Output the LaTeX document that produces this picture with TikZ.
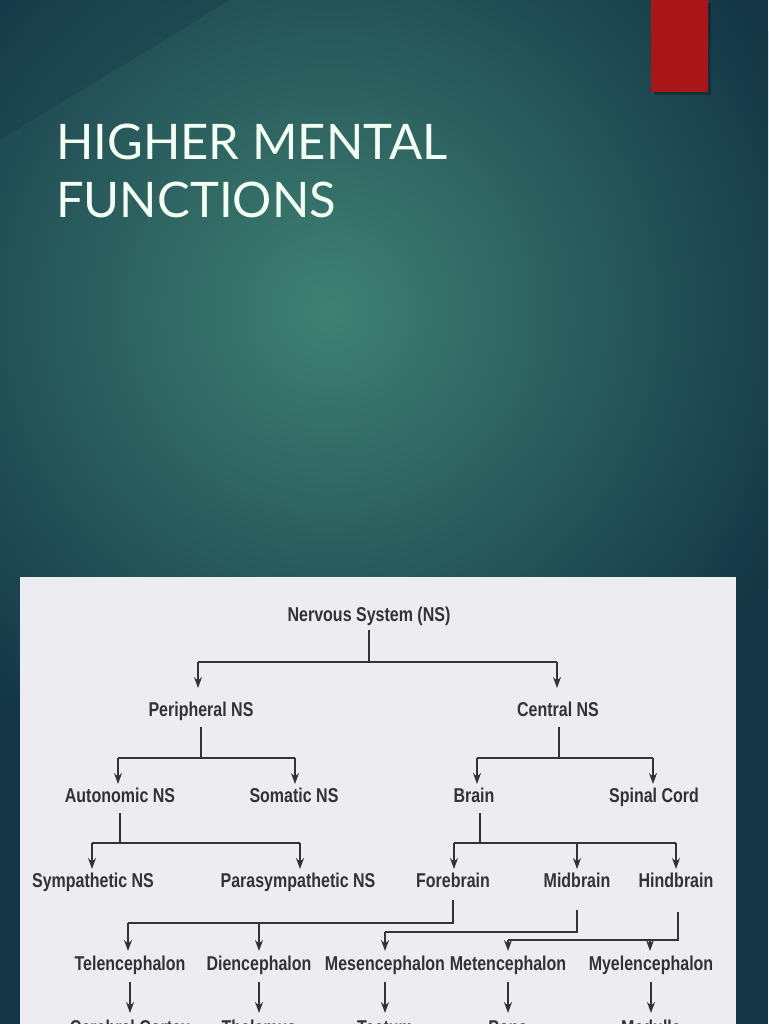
\documentclass[tikz,border=0pt]{standalone}
\usepackage{fontspec}
\setmainfont{Liberation Sans}
\newfontfamily\titlefont{Lato}
\usetikzlibrary{arrows.meta}
\definecolor{bgin}{HTML}{3F8173}
\definecolor{bgout}{HTML}{133545}
\definecolor{panel}{HTML}{ECECF1}
\definecolor{ln}{HTML}{333333}
\definecolor{redbar}{HTML}{A8161A}
\begin{document}
\begin{tikzpicture}[x=1pt,y=-1pt,
  lbl/.style={font=\bfseries\fontsize{20}{20}\selectfont, text=black!80, xscale=0.8, inner sep=0pt, text height=14.5pt, text depth=4pt},
  conn/.style={draw=ln, line width=1.4pt},
  arr/.style={conn, -{Stealth[length=11pt,width=8pt]}}]
\useasboundingbox (0,0) rectangle (768,1024);
\begin{scope}
\clip (0,0) rectangle (768,1024);
\fill[bgout] (0,0) rectangle (768,1024);
\shade[inner color=bgin, outer color=bgout] (330,310) circle (520);
\fill[bgout, opacity=0.3] (0,0) -- (230,0) -- (0,140) -- cycle;
\fill[black, opacity=0.25] (654,3) rectangle (711,95);
\fill[redbar] (651,0) rectangle (708,92);
\node[anchor=base west, inner sep=0, text=white!95!green, font=\titlefont\fontsize{49}{58}\selectfont] (title) at (56,160) {HIGHER MENTAL};
\node[anchor=base west, inner sep=0, text=white!95!green, font=\titlefont\fontsize{49}{58}\selectfont] (title2) at (56,218) {FUNCTIONS};
\fill[panel] (20,577) rectangle (736,1030);
\node[lbl] (ns) at (369,616) {Nervous System (NS)};
\node[lbl] (pns) at (201,711) {Peripheral NS};
\node[lbl] (cns) at (558,711) {Central NS};
\node[lbl] (ans) at (120,797) {Autonomic NS};
\node[lbl] (sns) at (294,797) {Somatic NS};
\node[lbl] (brain) at (474,797) {Brain};
\node[lbl] (spinal) at (654,797) {Spinal Cord};
\node[lbl] (symp) at (93,882) {Sympathetic NS};
\node[lbl] (para) at (298,882) {Parasympathetic NS};
\node[lbl] (fore) at (453,882) {Forebrain};
\node[lbl] (mid) at (577,882) {Midbrain};
\node[lbl] (hind) at (676,882) {Hindbrain};
\node[lbl] (tel) at (130,965) {Telencephalon};
\node[lbl] (die) at (259,965) {Diencephalon};
\node[lbl] (mes) at (385,965) {Mesencephalon};
\node[lbl] (met) at (508,965) {Metencephalon};
\node[lbl] (mye) at (651,965) {Myelencephalon};
\node[lbl, anchor=north] (cc) at (130,1020) {Cerebral Cortex};
\node[lbl, anchor=north] (thal) at (259,1020) {Thalamus};
\node[lbl, anchor=north] (tect) at (385,1020) {Tectum};
\node[lbl, anchor=north] (pons) at (508,1020) {Pons};
\node[lbl, anchor=north] (med) at (651,1020) {Medulla};
% connectors
\draw[conn] (369,630) -- (369,662) (198,662) -- (557,662);
\draw[arr] (198,662) -- (198,688);
\draw[arr] (557,662) -- (557,688);
\draw[conn] (201,727) -- (201,758) (118,758) -- (295,758);
\draw[arr] (118,758) -- (118,784);
\draw[arr] (295,758) -- (295,784);
\draw[conn] (559,727) -- (559,758) (477,758) -- (653,758);
\draw[arr] (477,758) -- (477,784);
\draw[arr] (653,758) -- (653,784);
\draw[conn] (120,813) -- (120,843) (92,843) -- (300,843);
\draw[arr] (92,843) -- (92,869);
\draw[arr] (300,843) -- (300,869);
\draw[conn] (480,813) -- (480,843) (454,843) -- (676,843);
\draw[arr] (454,843) -- (454,869);
\draw[arr] (577,843) -- (577,869);
\draw[arr] (676,843) -- (676,869);
\draw[conn] (453,900) -- (453,923) -- (128,923);
\draw[arr] (128,923) -- (128,951);
\draw[arr] (259,923) -- (259,951);
\draw[conn] (577,910) -- (577,932) -- (385,932);
\draw[arr] (385,932) -- (385,951);
\draw[conn] (678,912) -- (678,940) -- (508,940);
\draw[arr] (508,940) -- (508,951);
\draw[arr] (650,940) -- (650,951);
\foreach \xx in {130,259,385,508,651} \draw[arr] (\xx,982) -- (\xx,1013);
\end{scope}
\end{tikzpicture}
\end{document}
